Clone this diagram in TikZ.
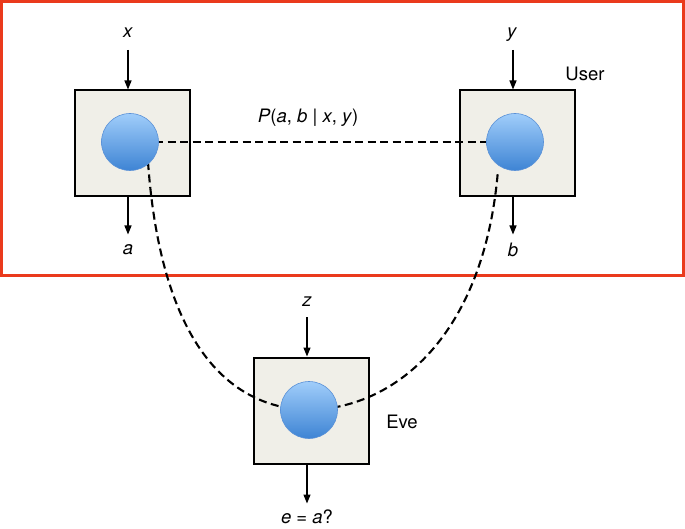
\documentclass[tikz,border=0pt]{standalone}
\usepackage{fontspec}
\setmainfont{TeX Gyre Heros}
\usetikzlibrary{arrows.meta,calc}
\definecolor{frame}{RGB}{234,58,28}
\definecolor{boxfill}{RGB}{240,239,232}
\definecolor{ballhi}{RGB}{160,205,250}
\definecolor{balllo}{RGB}{62,132,212}
\definecolor{ballline}{RGB}{90,145,215}
\begin{document}
\begin{tikzpicture}[x=1pt,y=-1pt,
  font=\fontsize{18.5}{21}\selectfont,
  device/.style={draw=black,line width=2pt,fill=boxfill,minimum width=115pt,minimum height=106pt,inner sep=0pt},
  ball/.style={circle,draw=ballline,line width=0.6pt,top color=ballhi,bottom color=balllo,minimum size=57pt,inner sep=0pt},
  arr/.style={line width=1.3pt,-{Triangle[length=9pt,width=7pt]}},
  dsh/.style={line width=2.1pt,dash pattern=on 8pt off 4.5pt},
  lbl/.style={inner sep=0pt}]
\useasboundingbox (0,0) rectangle (685,529);
\node[draw=frame,line width=3pt,minimum width=682pt,minimum height=274pt,inner sep=0pt] (frm) at (342.5,138.5) {};
% devices
\node[device] (bA) at (132,143.5) {};
\node[device] (bB) at (517.5,143.5) {};
\node[device] (bE) at (311.5,410.5) {};
% links
\coordinate (pA) at (130,142);
\coordinate (pB) at (515,142);
\coordinate (pE) at (309,410);
\draw[dsh] (pA) -- (pB);
\draw[dsh] (148,162) .. controls (160,330) and (220,408) .. (pE) .. controls (400,408) and (485,330) .. (498,170);
% balls
\node[ball] (cA) at (pA) {};
\node[ball] (cB) at (pB) {};
\node[ball] (cE) at (pE) {};
% labels
\node[lbl] (lx) at (128,33) {\textit{x}};
\node[lbl] (ly) at (512,35) {\textit{y}};
\node[lbl] (lz) at (307,302) {\textit{z}};
\node[lbl] (la) at (128,250) {\textit{a}};
\node[lbl] (lb) at (513,250) {\textit{b}};
\node[lbl] (le) at (307,517) {\textit{e} = \textit{a}?};
\node[lbl] (lp) at (308,118) {\textit{P}(\textit{a}, \textit{b} | \textit{x}, \textit{y})};
\node[lbl] (lu) at (585,74) {User};
\node[lbl] (lv) at (402,422) {Eve};
% arrows
\coordinate (ax) at (128,50);
\coordinate (ay) at (513,50);
\coordinate (az) at (307,317);
\draw[arr] (ax) -- (ax |- bA.north);
\draw[arr] (ay) -- (ay |- bB.north);
\draw[arr] (az) -- (az |- bE.north);
\draw[arr] (bA.south -| ax) -- ++(0,37);
\draw[arr] (bB.south -| ay) -- ++(0,37);
\draw[arr] (bE.south -| az) -- ++(0,39);
\end{tikzpicture}
\end{document}
